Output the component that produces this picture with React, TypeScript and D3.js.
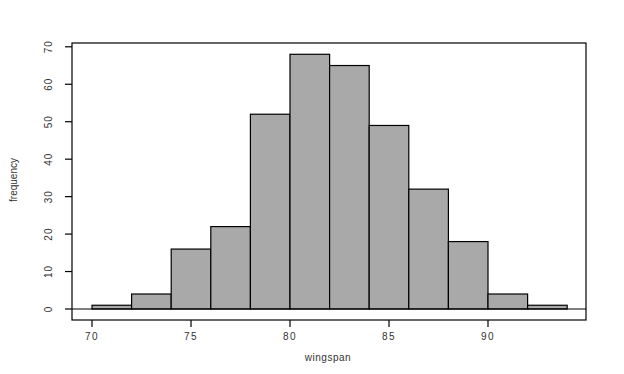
import React, { useEffect, useRef } from "react";
import * as d3 from "d3";

const binStarts = [70, 72, 74, 76, 78, 80, 82, 84, 86, 88, 90, 92];
const binWidth = 2;
const counts = [1, 4, 16, 22, 52, 68, 65, 49, 32, 18, 4, 1];
const xTicks = [70, 75, 80, 85, 90];
const yTicks = [0, 10, 20, 30, 40, 50, 60, 70];

export default function App() {
  const ref = useRef<SVGSVGElement>(null);
  useEffect(() => {
    const svg = d3.select(ref.current);
    svg.selectAll("*").remove();
    const W = 624, H = 374;
    const box = { l: 72, r: 586, t: 43, b: 320 };
    const x = d3.scaleLinear().domain([70, 90]).range([92, 488]);
    const y = d3.scaleLinear().domain([0, 70]).range([309, 46.8]);
    const font = "Arial, 'Liberation Sans', sans-serif";

    svg.append("rect").attr("width", W).attr("height", H).attr("fill", "white");

    // bars
    svg.append("g").selectAll("rect").data(binStarts).join("rect")
      .attr("x", (d) => x(d))
      .attr("width", (d) => x(d + binWidth) - x(d))
      .attr("y", (_, i) => y(counts[i]))
      .attr("height", (_, i) => y(0) - y(counts[i]))
      .attr("fill", "#a9a9a9")
      .attr("stroke", "black")
      .attr("stroke-width", 1.2);

    // baseline at 0
    svg.append("line").attr("x1", box.l).attr("x2", box.r)
      .attr("y1", y(0)).attr("y2", y(0)).attr("stroke", "black").attr("stroke-width", 1.2);

    // box
    svg.append("rect").attr("x", box.l).attr("y", box.t)
      .attr("width", box.r - box.l).attr("height", box.b - box.t)
      .attr("fill", "none").attr("stroke", "black").attr("stroke-width", 1.2);

    // y ticks
    const yg = svg.append("g");
    yTicks.forEach((t) => {
      yg.append("line").attr("x1", box.l - 7).attr("x2", box.l)
        .attr("y1", y(t)).attr("y2", y(t)).attr("stroke", "black").attr("stroke-width", 1.2);
      yg.append("text")
        .attr("transform", `translate(52,${y(t)}) rotate(-90)`)
        .attr("text-anchor", "middle")
        .attr("font-family", font).attr("font-size", 10)
        .attr("letter-spacing", 1)
        .attr("fill", "#333")
        .text(String(t));
    });

    // x ticks
    const xg = svg.append("g");
    xTicks.forEach((t) => {
      xg.append("line").attr("x1", x(t)).attr("x2", x(t))
        .attr("y1", box.b).attr("y2", box.b + 7).attr("stroke", "black").attr("stroke-width", 1.2);
      xg.append("text")
        .attr("x", x(t)).attr("y", 340)
        .attr("text-anchor", "middle")
        .attr("font-family", font).attr("font-size", 10)
        .attr("letter-spacing", 1.5)
        .attr("fill", "#333")
        .text(String(t));
    });

    svg.append("text").attr("x", 328).attr("y", 361)
      .attr("text-anchor", "middle").attr("font-family", font).attr("font-size", 10)
      .attr("letter-spacing", 0.5).attr("fill", "#333").text("wingspan");

    svg.append("text").attr("transform", `translate(17,180) rotate(-90)`)
      .attr("text-anchor", "middle").attr("font-family", font).attr("font-size", 10)
      .attr("fill", "#333").text("frequency");
  }, []);
  return (
    <svg ref={ref} width={624} height={374}
      style={{ position: "absolute", left: 0, top: 0, display: "block" }} />
  );
}
